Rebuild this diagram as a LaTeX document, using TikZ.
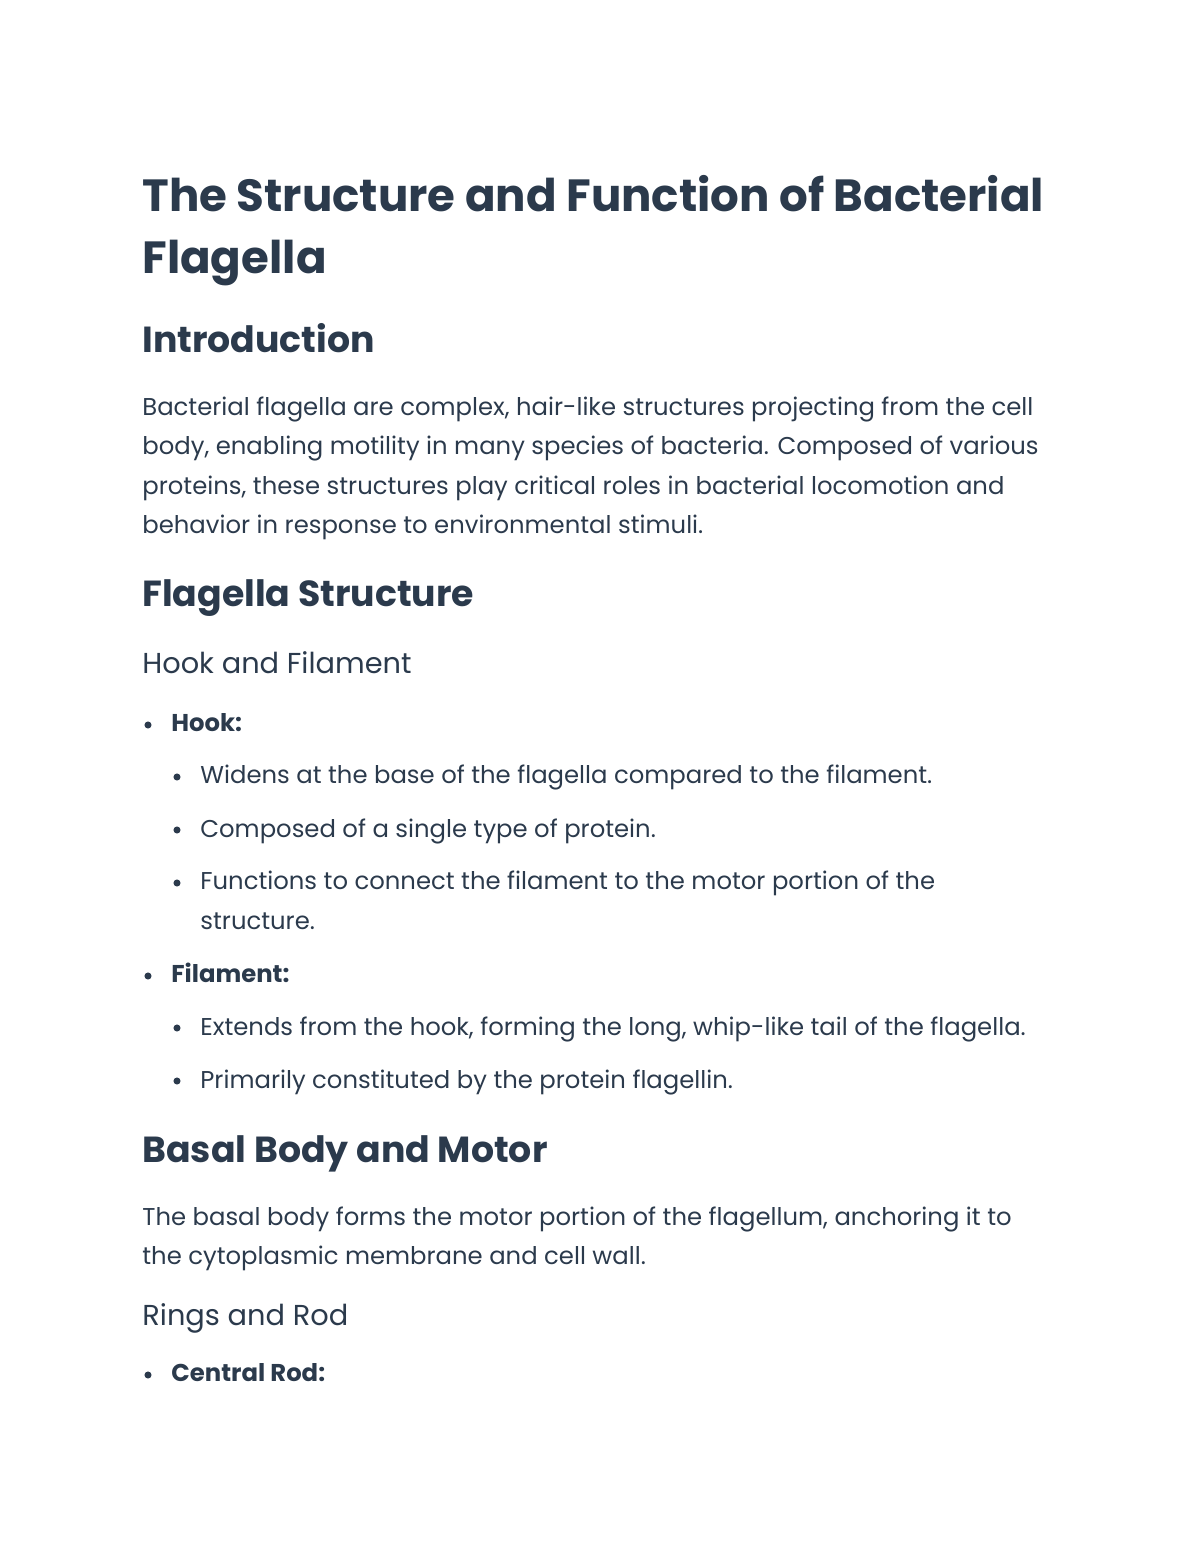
\documentclass[tikz,border=0pt]{standalone}
\usepackage{fontspec}
\setmainfont{Poppins}
\definecolor{ink}{HTML}{2B3A4C}
\begin{document}
\begin{tikzpicture}[x=0.51pt,y=-0.51pt,
  t/.style={anchor=base west,inner sep=0pt,text=ink},
  ttl/.style={t,font=\fontsize{23}{28}\selectfont\bfseries},
  hh/.style={t,font=\fontsize{18.5}{20}\selectfont\bfseries},
  sh/.style={t,font=\fontsize{14.7}{16}\selectfont},
  bd/.style={t,font=\fontsize{12.4}{14}\selectfont},
  bb/.style={t,font=\fontsize{12.4}{14}\selectfont\bfseries},
  bl/.style={circle,fill=ink,inner sep=0pt,minimum size=3.6pt}]
\useasboundingbox (0,0) rectangle (1200,1553);
\node[ttl] (t1) at (142,212) {The Structure and Function of Bacterial};
\node[ttl] (t2) at (142,273) {Flagella};
\node[hh] (h1) at (142,352) {Introduction};
\node[bd] (p1) at (142,415) {Bacterial flagella are complex, hair-like structures projecting from the cell};
\node[bd] (p2) at (142,454) {body, enabling motility in many species of bacteria. Composed of various};
\node[bd] (p3) at (142,494) {proteins, these structures play critical roles in bacterial locomotion and};
\node[bd] (p4) at (142,533) {behavior in response to environmental stimuli.};
\node[hh] (h2) at (142,606) {Flagella Structure};
\node[sh] (s1) at (142,673) {Hook and Filament};
\node[bl] (b1) at (148,725) {};
\node[bb] (l1) at (171,731) {Hook:};
\node[bl] (b2) at (177,777) {};
\node[bd] (l2) at (200,783) {Widens at the base of the flagella compared to the filament.};
\node[bl] (b3) at (177,830) {};
\node[bd] (l3) at (200,837) {Composed of a single type of protein.};
\node[bl] (b4) at (177,883) {};
\node[bd] (l4) at (200,889) {Functions to connect the filament to the motor portion of the};
\node[bd] (l5) at (200,929) {structure.};
\node[bl] (b5) at (148,976) {};
\node[bb] (l6) at (171,982) {Filament:};
\node[bl] (b6) at (177,1028) {};
\node[bd] (l7) at (200,1035) {Extends from the hook, forming the long, whip-like tail of the flagella.};
\node[bl] (b7) at (177,1081) {};
\node[bd] (l8) at (200,1088) {Primarily constituted by the protein flagellin.};
\node[hh] (h3) at (142,1162) {Basal Body and Motor};
\node[bd] (q1) at (142,1225) {The basal body forms the motor portion of the flagellum, anchoring it to};
\node[bd] (q2) at (142,1264) {the cytoplasmic membrane and cell wall.};
\node[sh] (s2) at (142,1325) {Rings and Rod};
\node[bl] (b8) at (148,1375) {};
\node[bb] (l9) at (171,1381) {Central Rod:};
\end{tikzpicture}
\end{document}
